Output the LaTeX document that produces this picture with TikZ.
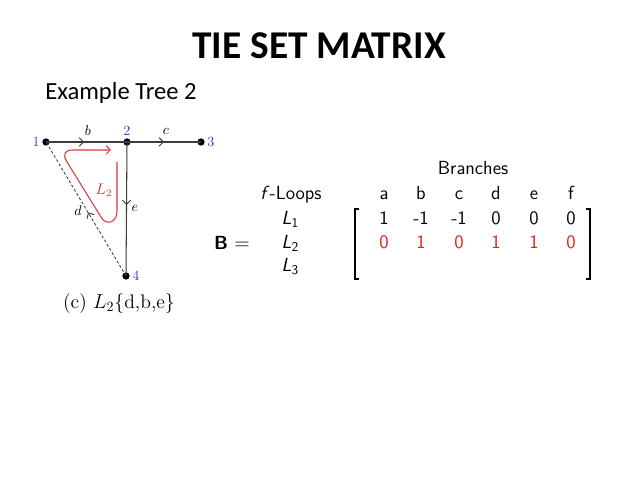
\documentclass[tikz,border=0pt]{standalone}
\usepackage{fontspec}
\newfontfamily\calibri{Carlito}
\usepackage{xcolor}
\definecolor{loopRed}{HTML}{D9383A}
\definecolor{rowRed}{HTML}{E0201C}
\definecolor{vtxBlue}{HTML}{3A3AC8}
\definecolor{edgeGray}{HTML}{3C3C3C}
\usetikzlibrary{decorations.markings}
\usetikzlibrary{arrows.meta}
\tikzset{
    vtx/.style={circle,fill=black,inner sep=0pt,minimum size=5.2pt},
    vlab/.style={text=vtxBlue,font=\fontsize{10}{11}\selectfont,inner sep=1.5pt},
    elab/.style={font=\fontsize{10}{11}\selectfont,inner sep=1pt},
    branch/.style={draw=edgeGray,line width=0.75pt},
    midarrow/.style={postaction={decorate},
      decoration={markings,mark=at position #1 with {\arrow[line width=0.65pt]{Straight Barb[length=3pt,width=6pt]}}}},
    cell/.style={font=\sffamily\fontsize{13.5}{15}\selectfont,inner sep=0pt,anchor=base},
}
\newcommand{\Lrow}[1]{\textit{L}\raisebox{-0.35ex}{\fontsize{9.5}{10}\selectfont #1}}

\begin{document}
\begin{tikzpicture}[x=0.025cm,y=-0.025cm]
  % Page
  \useasboundingbox (0,0) rectangle (638,478);

  % Headings
  \node (title) at (319,46) {\calibri\bfseries\fontsize{28}{32}\selectfont TIE SET MATRIX};
  \node[anchor=west,inner sep=0pt] (sub) at (45,93) {\calibri\fontsize{17.5}{20}\selectfont Example Tree 2};

  % Tree vertices
  \node[vtx] (v1) at (46,142) {};
  \node[vtx] (v2) at (127,142) {};
  \node[vtx] (v3) at (201,142) {};
  \node[vtx] (v4) at (126,276) {};
  \node[vlab,left]  at (v1.west)  {1};
  \node[vlab,above] at (v2.north) {2};
  \node[vlab,right] at (v3.east)  {3};
  \node[vlab,right] at (v4.east)  {4};

  % Tree branches and the link d
  \draw[branch,midarrow=0.47] (v1.center) -- (v2.center);
  \draw[branch,midarrow=0.5]  (v2.center) -- (v3.center);
  \draw[branch,midarrow=0.47] (v2.center) -- (v4.center);
  \draw[branch,line width=0.6pt,dash pattern=on 2pt off 1.5pt,midarrow=0.475] (v4.center) -- (v1.center);
  \node[elab] at (88,131)  {$b$};
  \node[elab] at (166,131) {$c$};
  \node[elab] at (135,208) {$e$};
  \node[elab] at (78,211)  {$d$};

  % Loop L2
  \coordinate (lstart) at (117,162);
  \coordinate (lend) at (111,150);
  \draw[loopRed,line width=0.75pt,-{Straight Barb[length=3pt,width=6pt]}]
    (lstart) -- (117,211) .. controls (117,223) and (106,226) .. (101,217)
    -- (67,162) .. controls (62,154) and (65,150) .. (73,150) -- (lend);
  \node[text=loopRed,font=\fontsize{10.5}{11}\selectfont] at (104,190) {$L_2$};

  % Caption
  \node (cap) at (119,304) {\fontsize{14}{16}\selectfont (c)\ $L_2$\{d,b,e\}};

  % Matrix labels
  \node[font=\sffamily\fontsize{13.5}{15}\selectfont] (bname) at (232,243) {\textbf{B} $=$};
  \node[cell] (brs) at (473,175) {Branches};
  \node[cell] (fl) at (291,200) {\textit{f}-Loops};
  \foreach \r [count=\i] in {224.5,248.5,272}
    \node[cell] (L\i) at (290,\r) {\Lrow{\i}};

  % Columns
  \foreach \c/\x in {a/384,b/421,c/459,d/496,e/534,f/571}
    \node[cell] (h\c) at (\x,200) {\c};
  \foreach \v/\x [count=\j] in {1/384,-1/421,-1/459,0/496,0/534,0/571}
    \node[cell] (r1c\j) at (\x,224.5) {\v};
  \foreach \v/\x [count=\j] in {0/384,1/421,0/459,1/496,1/534,0/571}
    \node[cell,text=rowRed] (r2c\j) at (\x,248.5) {\v};

  % Brackets
  \draw[line width=0.9pt] (359,209) -- (355,209) -- (355,279) -- (359,279);
  \draw[line width=0.9pt] (586,209) -- (590,209) -- (590,279) -- (586,279);
\end{tikzpicture}
\end{document}
